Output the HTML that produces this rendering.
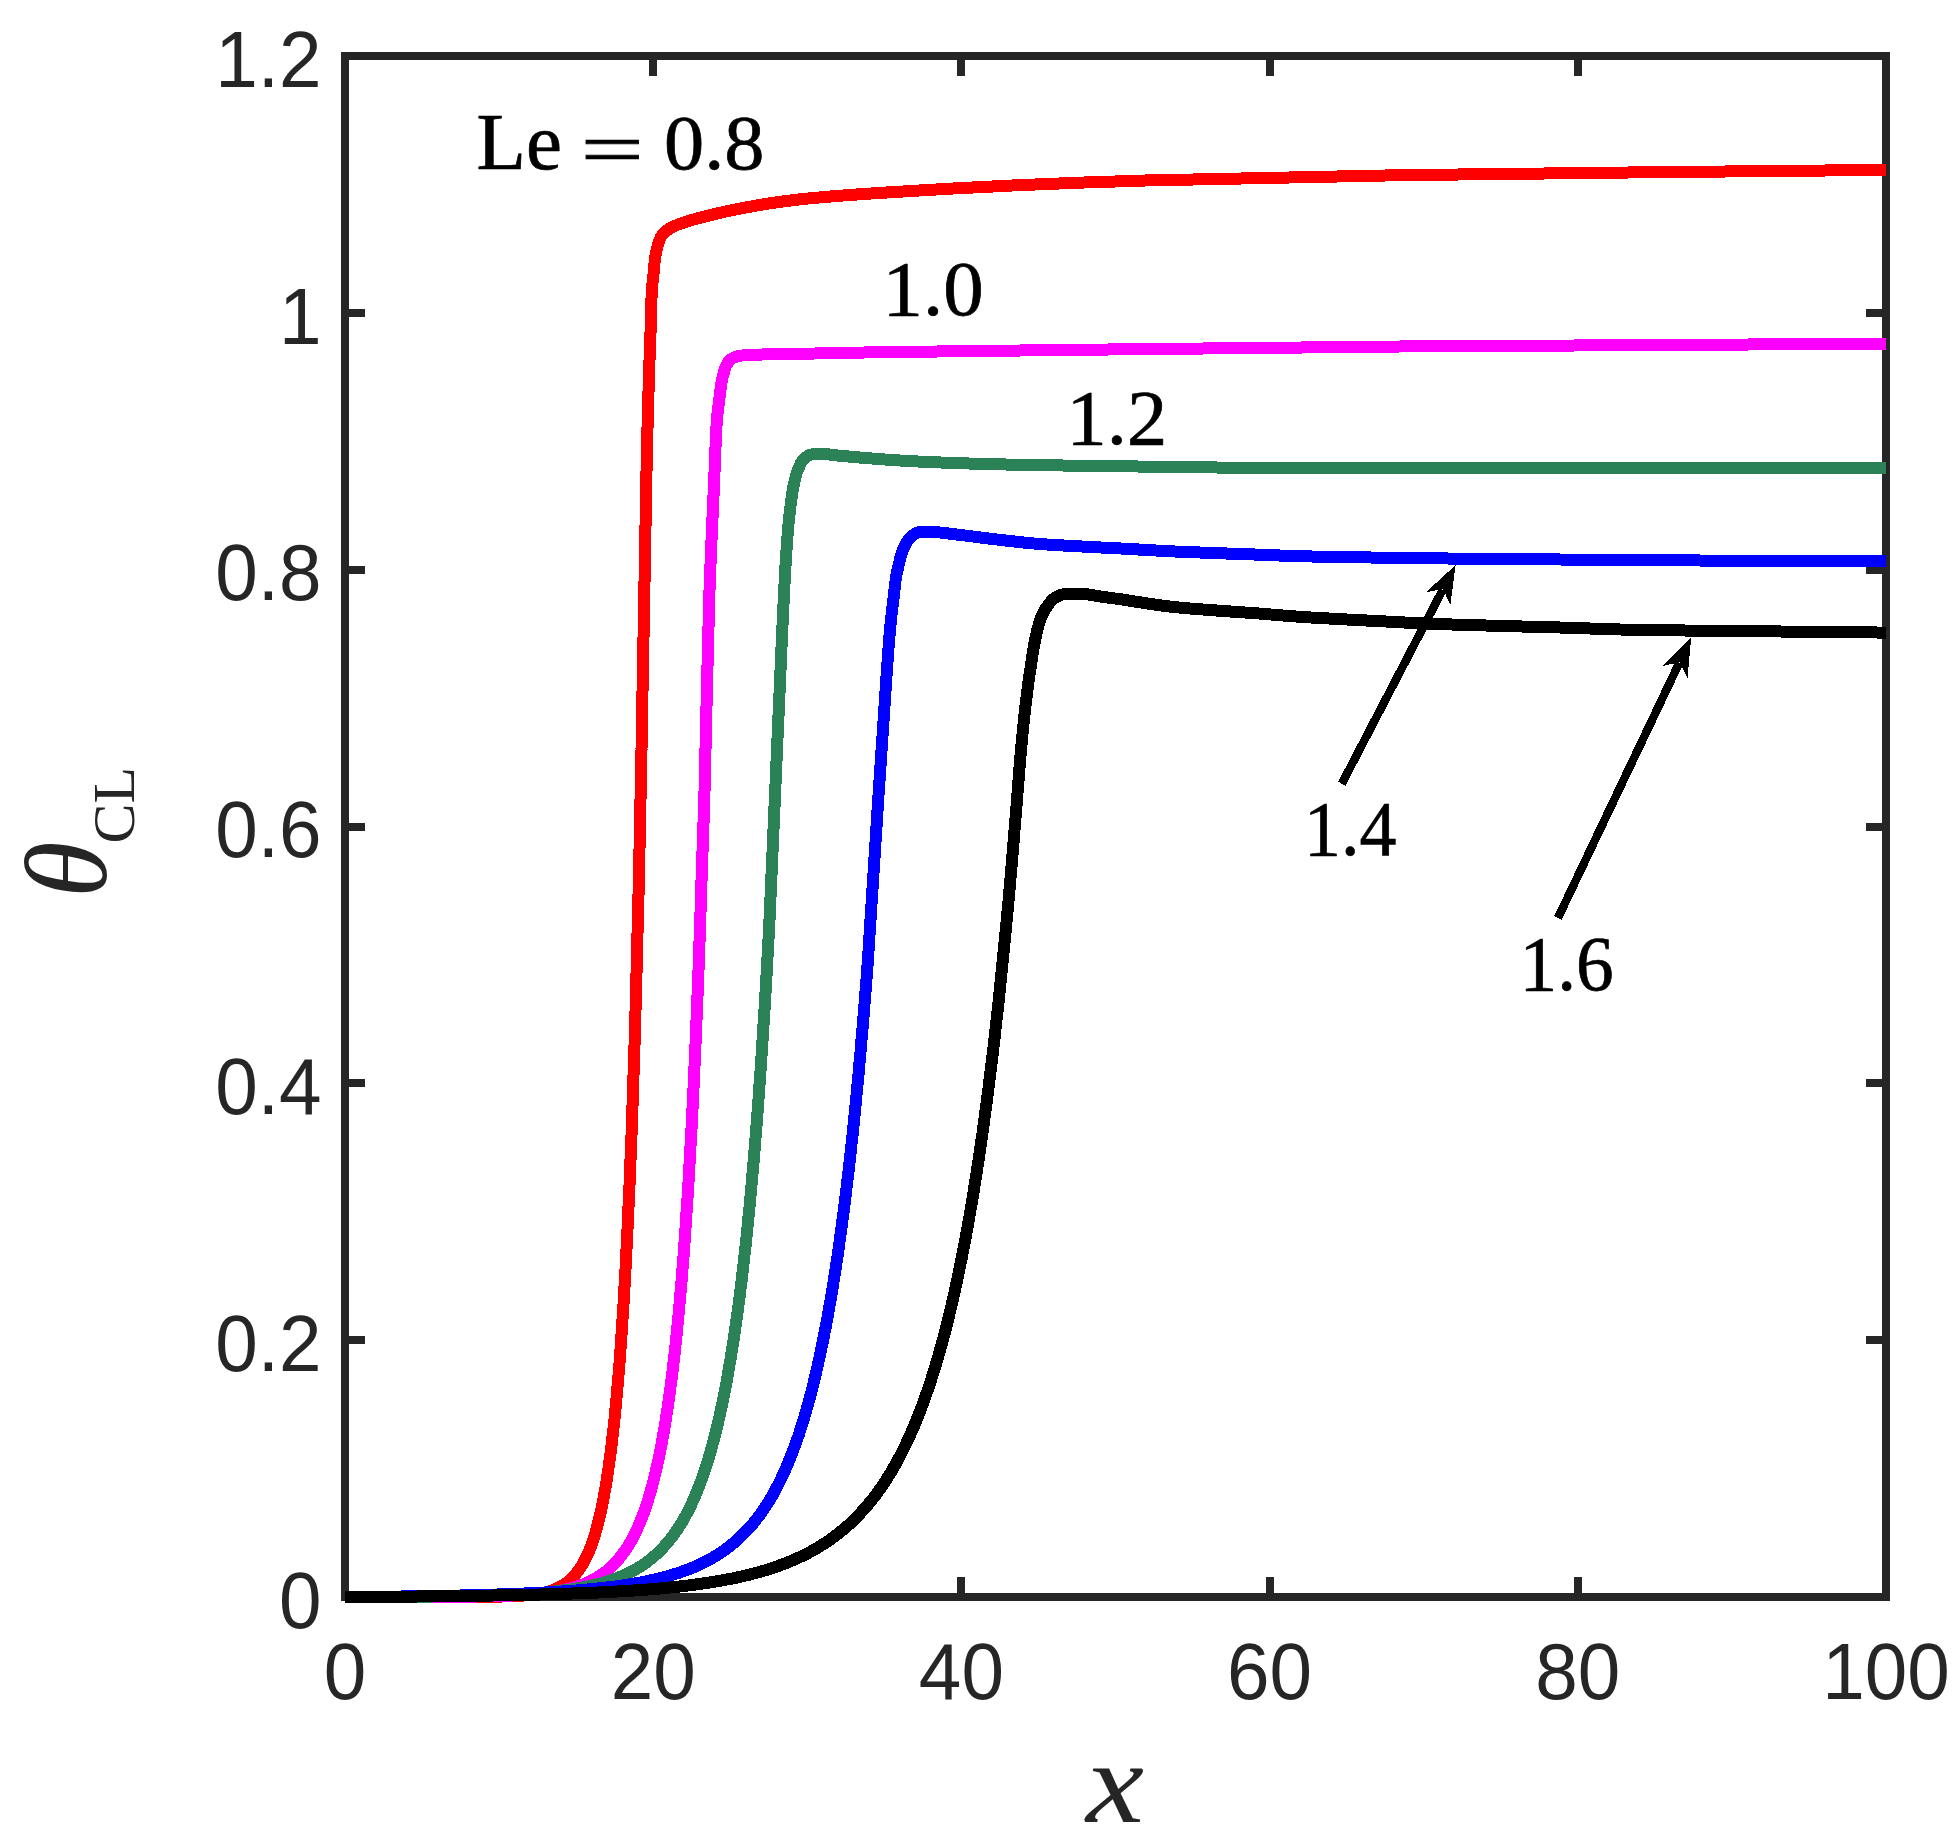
<!DOCTYPE html>
<html lang="en"><head><meta charset="utf-8"><title>theta_CL vs x for several Lewis numbers</title>
<style>
html,body{margin:0;padding:0;background:#fff}
svg{display:block}
.tk{font-family:"Liberation Sans",sans-serif;fill:#262626}
.rm{font-family:"Liberation Serif",serif;fill:#000;stroke:#000;stroke-width:0.7px}
.it{font-family:"Liberation Serif",serif;font-style:italic;fill:#262626}
.sb{font-family:"Liberation Serif",serif;fill:#262626}
</style></head><body>
<svg width="1959" height="1846" viewBox="0 0 1959 1846">
<rect width="1959" height="1846" fill="#fff"/>
<g stroke="#262626" stroke-width="8" fill="none" shape-rendering="crispEdges"><rect x="345.0" y="56.0" width="1541.0" height="1541.0"/><line x1="653.2" y1="1597.0" x2="653.2" y2="1577.0"/><line x1="653.2" y1="56.0" x2="653.2" y2="76.0"/><line x1="961.4" y1="1597.0" x2="961.4" y2="1577.0"/><line x1="961.4" y1="56.0" x2="961.4" y2="76.0"/><line x1="1269.6" y1="1597.0" x2="1269.6" y2="1577.0"/><line x1="1269.6" y1="56.0" x2="1269.6" y2="76.0"/><line x1="1577.8" y1="1597.0" x2="1577.8" y2="1577.0"/><line x1="1577.8" y1="56.0" x2="1577.8" y2="76.0"/><line x1="345.0" y1="1340.2" x2="365.0" y2="1340.2"/><line x1="1886.0" y1="1340.2" x2="1866.0" y2="1340.2"/><line x1="345.0" y1="1083.3" x2="365.0" y2="1083.3"/><line x1="1886.0" y1="1083.3" x2="1866.0" y2="1083.3"/><line x1="345.0" y1="826.5" x2="365.0" y2="826.5"/><line x1="1886.0" y1="826.5" x2="1866.0" y2="826.5"/><line x1="345.0" y1="569.7" x2="365.0" y2="569.7"/><line x1="1886.0" y1="569.7" x2="1866.0" y2="569.7"/><line x1="345.0" y1="312.8" x2="365.0" y2="312.8"/><line x1="1886.0" y1="312.8" x2="1866.0" y2="312.8"/></g>
<g fill="none" stroke-width="12" stroke-linejoin="round" shape-rendering="crispEdges"><path stroke="#ff0000" d="M345.0 1597.0C347.7 1597.0 350.3 1597.0 353.0 1597.0C355.7 1597.0 358.4 1597.0 361.0 1597.0C363.7 1597.0 366.4 1597.0 369.0 1597.0C371.7 1597.0 374.4 1597.0 377.1 1597.0C379.7 1597.0 382.4 1597.0 385.1 1597.0C387.7 1597.0 390.4 1597.0 393.1 1597.0C395.8 1597.0 398.4 1597.0 401.1 1597.0C403.8 1597.0 406.4 1597.0 409.1 1597.0C411.8 1597.0 414.4 1597.0 417.1 1597.0C419.8 1597.0 422.5 1597.0 425.1 1597.0C427.8 1597.0 430.5 1597.0 433.1 1597.0C435.8 1597.0 438.5 1597.0 441.2 1597.0C443.8 1597.0 446.5 1597.0 449.2 1597.0C451.8 1597.0 454.5 1597.0 457.2 1597.0C459.9 1596.9 462.5 1596.9 465.2 1596.9C467.9 1596.9 470.5 1596.9 473.2 1596.9C475.9 1596.9 478.6 1596.9 481.2 1596.8C483.9 1596.8 486.6 1596.8 489.2 1596.7C491.9 1596.7 494.6 1596.7 497.3 1596.6C499.9 1596.6 502.6 1596.5 505.3 1596.4C507.9 1596.3 510.6 1596.2 513.3 1596.1C515.9 1596.0 518.6 1595.8 521.3 1595.7C524.0 1595.5 526.6 1595.2 529.3 1595.0C532.0 1594.7 534.7 1594.3 537.3 1593.9C540.0 1593.5 542.6 1593.0 545.2 1592.4C547.8 1591.7 550.4 1591.0 552.9 1590.1C555.4 1589.2 557.9 1588.0 560.3 1586.8C562.6 1585.6 564.9 1584.1 567.1 1582.5C569.2 1580.9 571.2 1579.0 573.1 1577.1C574.9 1575.2 576.7 1573.0 578.3 1570.8C579.9 1568.7 581.4 1566.3 582.8 1564.0C584.2 1561.6 585.4 1559.1 586.6 1556.6C587.8 1554.1 588.9 1551.6 589.9 1549.1C590.9 1546.6 591.8 1544.1 592.6 1541.5C593.5 1539.0 594.3 1536.4 595.1 1533.8C595.9 1531.1 596.7 1528.3 597.4 1525.6C598.1 1522.9 598.8 1520.3 599.4 1517.6C600.1 1514.9 600.7 1512.2 601.3 1509.4C601.9 1506.7 602.4 1503.9 603.0 1501.2C603.5 1498.4 604.0 1495.7 604.5 1493.0C605.0 1490.3 605.4 1487.7 605.9 1485.0C606.4 1482.1 606.8 1479.2 607.3 1476.3C607.7 1473.5 608.1 1470.9 608.5 1468.1C608.9 1465.2 609.4 1462.1 609.7 1459.2C610.1 1456.4 610.5 1453.8 610.8 1451.0C611.2 1448.1 611.6 1445.0 611.9 1442.2C612.2 1439.5 612.5 1436.9 612.8 1434.2C613.1 1431.5 613.4 1428.7 613.8 1425.9C614.1 1423.0 614.4 1420.0 614.7 1417.0C615.0 1414.0 615.3 1410.7 615.6 1407.7C615.9 1404.9 616.1 1402.3 616.4 1399.6C616.6 1396.8 616.9 1393.9 617.1 1391.1C617.4 1388.1 617.7 1385.2 617.9 1382.2C618.2 1379.1 618.4 1376.0 618.7 1372.9C618.9 1369.6 619.2 1366.2 619.5 1363.1C619.7 1360.3 619.9 1357.7 620.1 1355.0C620.3 1352.2 620.5 1349.4 620.7 1346.6C620.9 1343.7 621.1 1340.8 621.3 1337.9C621.5 1334.9 621.7 1331.9 621.9 1328.8C622.1 1325.7 622.3 1322.6 622.5 1319.4C622.7 1316.2 622.9 1313.0 623.2 1309.7C623.4 1306.3 623.6 1303.0 623.8 1299.6C624.0 1296.1 624.2 1292.3 624.4 1289.1C624.5 1286.2 624.7 1283.7 624.8 1280.9C625.0 1278.2 625.2 1275.4 625.3 1272.6C625.5 1269.7 625.6 1266.9 625.8 1264.0C625.9 1261.0 626.1 1258.1 626.2 1255.1C626.4 1252.1 626.5 1249.1 626.7 1246.0C626.8 1242.9 627.0 1239.8 627.2 1236.6C627.3 1233.5 627.5 1230.2 627.6 1227.0C627.8 1223.7 627.9 1220.4 628.1 1217.1C628.2 1213.7 628.4 1210.3 628.5 1206.9C628.7 1203.4 628.9 1199.9 629.0 1196.4C629.2 1192.8 629.3 1189.2 629.5 1185.5C629.6 1181.8 629.8 1178.1 629.9 1174.4C630.1 1170.6 630.2 1166.8 630.4 1162.9C630.5 1159.0 630.7 1154.7 630.9 1151.1C631.0 1148.2 631.1 1145.7 631.2 1143.0C631.3 1140.3 631.4 1137.5 631.5 1134.8C631.6 1132.0 631.7 1129.2 631.8 1126.4C631.9 1123.5 632.0 1120.7 632.1 1117.8C632.2 1114.9 632.3 1112.0 632.4 1109.1C632.5 1106.1 632.6 1103.1 632.7 1100.2C632.8 1097.1 632.9 1094.1 633.0 1091.1C633.1 1088.0 633.2 1084.9 633.3 1081.8C633.4 1078.6 633.5 1075.5 633.6 1072.3C633.7 1069.1 633.8 1065.9 633.9 1062.6C634.0 1059.4 634.1 1056.1 634.2 1052.8C634.3 1049.4 634.5 1046.1 634.6 1042.7C634.7 1039.3 634.8 1035.9 634.9 1032.4C635.0 1028.9 635.1 1025.4 635.2 1021.9C635.3 1018.4 635.4 1014.8 635.5 1011.2C635.6 1007.6 635.7 1004.0 635.8 1000.3C635.9 996.6 636.0 992.9 636.1 989.1C636.2 985.4 636.3 981.6 636.4 977.7C636.5 973.9 636.6 970.0 636.7 966.1C636.8 962.2 636.9 958.2 637.0 954.2C637.1 950.2 637.2 946.2 637.3 942.1C637.4 938.0 637.5 933.9 637.6 929.7C637.7 925.5 637.8 921.3 637.9 917.1C638.0 912.8 638.2 908.5 638.3 904.1C638.4 899.8 638.5 895.4 638.6 890.9C638.7 886.5 638.8 882.0 638.9 877.5C639.0 872.9 639.1 868.3 639.2 863.7C639.3 859.0 639.4 854.3 639.5 849.6C639.6 844.9 639.7 840.1 639.8 835.2C639.9 830.4 640.0 825.5 640.1 820.6C640.2 815.6 640.3 810.6 640.4 805.5C640.5 800.5 640.6 795.3 640.7 790.2C640.8 785.0 640.9 779.8 641.0 774.5C641.1 769.2 641.3 762.9 641.3 758.5C641.4 755.3 641.4 753.1 641.5 750.3C641.5 747.6 641.6 746.0 641.6 742.1C641.9 725.8 643.3 648.0 644.2 600.0C645.1 550.7 646.0 490.6 646.9 450.0C647.5 421.8 648.2 399.0 648.9 377.5C649.5 360.1 650.1 345.1 650.6 330.0C651.1 316.1 651.3 300.3 651.9 290.0C652.3 283.3 653.1 278.5 653.6 273.1C654.1 268.1 654.4 262.8 655.0 258.5C655.5 254.9 656.2 251.8 656.9 248.8C657.5 246.2 658.2 243.6 659.0 241.4C659.7 239.5 660.5 237.5 661.4 236.1C662.1 235.0 662.8 234.1 663.6 233.2C664.5 232.2 665.5 231.4 666.7 230.5C668.3 229.3 670.4 228.1 672.8 226.9C676.2 225.2 681.4 223.3 685.9 221.8C690.5 220.3 695.4 219.0 700.2 217.7C705.0 216.4 709.7 215.3 714.6 214.1C719.6 212.9 723.3 212.0 730.0 210.6C743.6 207.8 771.9 202.5 795.0 199.9C821.3 196.9 844.7 195.2 880.0 192.9C942.3 188.8 1057.9 183.0 1145.5 180.5C1231.2 178.0 1315.9 176.5 1400.0 175.2C1482.6 174.0 1564.1 173.2 1645.5 172.3C1726.1 171.4 1806.2 170.6 1886.0 169.9"/>
<path stroke="#ff00ff" d="M345.0 1597.0C347.7 1597.0 350.3 1597.0 353.0 1597.0C355.7 1597.0 358.4 1597.0 361.0 1597.0C363.7 1597.0 366.4 1597.0 369.0 1597.0C371.7 1597.0 374.4 1597.0 377.1 1597.0C379.7 1597.0 382.4 1597.0 385.1 1597.0C387.7 1597.0 390.4 1597.0 393.1 1597.0C395.8 1597.0 398.4 1597.0 401.1 1597.0C403.8 1597.0 406.4 1596.9 409.1 1596.9C411.8 1596.9 414.4 1596.9 417.1 1596.9C419.8 1596.9 422.5 1596.9 425.1 1596.9C427.8 1596.9 430.5 1596.9 433.1 1596.9C435.8 1596.9 438.5 1596.8 441.2 1596.8C443.8 1596.8 446.5 1596.8 449.2 1596.8C451.8 1596.8 454.5 1596.7 457.2 1596.7C459.9 1596.7 462.5 1596.7 465.2 1596.6C467.9 1596.6 470.5 1596.6 473.2 1596.6C475.9 1596.5 478.6 1596.5 481.2 1596.4C483.9 1596.4 486.6 1596.3 489.2 1596.3C491.9 1596.2 494.6 1596.1 497.3 1596.1C499.9 1596.0 502.6 1595.9 505.3 1595.8C507.9 1595.7 510.6 1595.6 513.3 1595.5C515.9 1595.4 518.6 1595.2 521.3 1595.1C524.0 1594.9 526.6 1594.7 529.3 1594.5C532.0 1594.3 534.6 1594.1 537.3 1593.9C540.0 1593.6 542.7 1593.3 545.3 1593.0C548.0 1592.7 550.7 1592.3 553.3 1591.9C556.0 1591.5 558.7 1591.0 561.4 1590.5C564.0 1589.9 566.6 1589.4 569.2 1588.7C571.8 1588.1 574.4 1587.3 576.9 1586.5C579.5 1585.7 582.0 1584.8 584.5 1583.8C587.0 1582.8 589.5 1581.7 591.9 1580.4C594.3 1579.2 596.7 1577.9 599.0 1576.4C601.2 1575.0 603.5 1573.4 605.6 1571.8C607.7 1570.1 609.8 1568.3 611.7 1566.5C613.7 1564.6 615.6 1562.6 617.4 1560.5C619.2 1558.5 620.9 1556.4 622.5 1554.2C624.2 1552.1 625.7 1549.8 627.2 1547.5C628.6 1545.2 630.0 1542.9 631.3 1540.6C632.7 1538.1 634.0 1535.6 635.2 1533.2C636.4 1530.7 637.5 1528.3 638.6 1525.8C639.6 1523.3 640.7 1520.9 641.6 1518.3C642.7 1515.8 643.6 1513.1 644.6 1510.5C645.5 1507.9 646.3 1505.3 647.2 1502.7C648.0 1500.0 648.9 1497.4 649.7 1494.7C650.5 1492.0 651.2 1489.2 652.0 1486.5C652.7 1483.7 653.4 1481.0 654.1 1478.2C654.8 1475.4 655.5 1472.6 656.1 1469.9C656.8 1467.1 657.4 1464.4 658.0 1461.6C658.6 1458.9 659.1 1456.3 659.7 1453.5C660.2 1450.7 660.8 1447.7 661.4 1444.9C661.9 1442.1 662.4 1439.3 662.9 1436.5C663.4 1433.9 663.8 1431.3 664.3 1428.6C664.8 1425.8 665.2 1423.0 665.7 1420.2C666.2 1417.3 666.6 1414.2 667.1 1411.3C667.5 1408.5 667.9 1405.8 668.3 1403.0C668.7 1400.1 669.1 1397.1 669.5 1394.2C669.9 1391.5 670.3 1388.9 670.6 1386.2C671.0 1383.4 671.3 1380.7 671.7 1377.8C672.1 1374.9 672.4 1372.0 672.8 1369.1C673.1 1366.0 673.5 1362.9 673.8 1359.9C674.2 1357.1 674.5 1354.5 674.8 1351.7C675.1 1348.9 675.4 1346.1 675.7 1343.2C676.0 1340.3 676.3 1337.3 676.6 1334.3C676.9 1331.3 677.3 1328.1 677.5 1325.1C677.8 1322.4 678.1 1319.8 678.3 1317.1C678.6 1314.4 678.8 1311.7 679.1 1308.9C679.3 1306.1 679.6 1303.3 679.9 1300.4C680.1 1297.5 680.4 1294.5 680.6 1291.6C680.9 1288.6 681.1 1285.5 681.4 1282.5C681.7 1279.4 681.9 1276.2 682.2 1273.0C682.4 1269.8 682.7 1266.4 682.9 1263.3C683.2 1260.5 683.4 1257.9 683.6 1255.2C683.8 1252.5 684.0 1249.7 684.2 1247.0C684.4 1244.1 684.6 1241.3 684.8 1238.4C685.0 1235.5 685.2 1232.6 685.4 1229.7C685.6 1226.7 685.8 1223.7 686.0 1220.7C686.2 1217.6 686.4 1214.5 686.6 1211.4C686.8 1208.3 687.1 1205.1 687.3 1201.9C687.5 1198.7 687.7 1195.4 687.9 1192.1C688.1 1188.8 688.3 1185.4 688.5 1182.0C688.7 1178.6 688.9 1175.1 689.1 1171.7C689.3 1168.1 689.5 1164.3 689.7 1161.0C689.9 1158.1 690.0 1155.5 690.2 1152.8C690.3 1150.0 690.5 1147.2 690.6 1144.4C690.8 1141.5 691.0 1138.7 691.1 1135.8C691.3 1132.9 691.4 1130.0 691.6 1127.0C691.7 1124.1 691.9 1121.1 692.0 1118.1C692.2 1115.0 692.3 1112.0 692.5 1108.9C692.7 1105.8 692.8 1102.7 693.0 1099.5C693.1 1096.4 693.3 1093.2 693.4 1089.9C693.6 1086.7 693.7 1083.4 693.9 1080.2C694.0 1076.8 694.2 1073.5 694.3 1070.1C694.5 1066.7 694.7 1063.3 694.8 1059.9C695.0 1056.4 695.1 1052.9 695.3 1049.4C695.4 1045.9 695.6 1042.3 695.7 1038.7C695.9 1035.1 696.0 1031.4 696.2 1027.7C696.3 1024.0 696.5 1020.3 696.7 1016.5C696.8 1012.7 697.0 1008.9 697.1 1005.1C697.3 1001.2 697.4 997.3 697.6 993.3C697.7 989.3 697.9 984.9 698.0 981.3C698.2 978.3 698.2 975.9 698.4 973.2C698.5 970.4 698.6 967.6 698.7 964.9C698.8 962.1 698.9 959.3 699.0 956.5C699.1 953.6 699.2 950.8 699.3 947.9C699.4 945.0 699.5 942.1 699.6 939.2C699.7 936.3 699.8 933.4 699.9 930.4C700.0 927.5 700.1 924.5 700.2 921.5C700.3 918.5 700.4 915.4 700.5 912.4C700.6 909.3 700.7 906.2 700.8 903.2C700.9 900.0 701.0 896.9 701.1 893.8C701.2 890.6 701.3 887.4 701.4 884.2C701.5 881.0 701.6 877.8 701.7 874.6C701.8 871.3 701.9 868.0 702.0 864.7C702.2 861.4 702.2 859.2 702.4 854.8C702.7 844.4 703.6 823.2 704.3 800.0C705.7 755.7 707.3 657.9 709.2 600.0C710.6 555.2 712.8 512.8 714.2 480.0C715.2 456.8 715.9 433.4 716.9 420.0C717.5 412.9 718.2 408.5 718.8 403.1C719.4 398.1 720.0 392.8 720.6 388.5C721.1 384.9 721.6 381.8 722.2 378.8C722.8 376.2 723.5 373.6 724.2 371.4C724.7 369.6 725.1 368.1 725.8 366.5C726.5 364.9 727.5 363.1 728.5 361.8C729.5 360.6 730.7 359.4 732.0 358.6C733.3 357.7 735.0 356.9 736.6 356.5C738.3 356.0 740.1 355.7 742.0 355.5C744.1 355.2 745.8 355.1 748.8 354.9C756.3 354.5 773.8 354.3 790.0 354.0C813.9 353.5 842.9 352.8 880.0 352.2C943.7 351.2 1057.9 350.1 1145.5 349.1C1231.2 348.2 1315.9 347.1 1400.0 346.5C1482.6 345.9 1564.1 345.6 1645.5 345.1C1726.1 344.6 1806.2 344.2 1886.0 343.7"/>
<path stroke="#2b8257" d="M345.0 1597.0C347.7 1597.0 350.3 1597.0 353.0 1597.0C355.7 1597.0 358.4 1597.0 361.0 1597.0C363.7 1596.9 366.4 1596.9 369.0 1596.9C371.7 1596.9 374.4 1596.9 377.1 1596.9C379.7 1596.9 382.4 1596.9 385.1 1596.9C387.7 1596.8 390.4 1596.8 393.1 1596.8C395.8 1596.8 398.4 1596.8 401.1 1596.8C403.8 1596.8 406.4 1596.7 409.1 1596.7C411.8 1596.7 414.4 1596.7 417.1 1596.7C419.8 1596.6 422.5 1596.6 425.1 1596.6C427.8 1596.6 430.5 1596.5 433.1 1596.5C435.8 1596.5 438.5 1596.4 441.2 1596.4C443.8 1596.4 446.5 1596.3 449.2 1596.3C451.8 1596.3 454.5 1596.2 457.2 1596.2C459.9 1596.1 462.5 1596.1 465.2 1596.0C467.9 1596.0 470.5 1595.9 473.2 1595.9C475.9 1595.8 478.6 1595.7 481.2 1595.7C483.9 1595.6 486.6 1595.5 489.2 1595.4C491.9 1595.4 494.6 1595.3 497.3 1595.2C499.9 1595.1 502.6 1595.0 505.3 1594.9C507.9 1594.8 510.6 1594.6 513.3 1594.5C515.9 1594.4 518.6 1594.2 521.3 1594.1C524.0 1593.9 526.6 1593.8 529.3 1593.6C532.0 1593.4 534.6 1593.2 537.3 1593.0C540.0 1592.8 542.7 1592.6 545.3 1592.4C548.0 1592.1 550.7 1591.9 553.3 1591.6C556.0 1591.3 558.7 1591.0 561.4 1590.7C564.0 1590.4 566.7 1590.0 569.4 1589.6C572.0 1589.3 574.7 1588.8 577.4 1588.4C580.1 1587.9 582.7 1587.5 585.4 1586.9C588.0 1586.4 590.6 1585.8 593.3 1585.2C595.9 1584.6 598.5 1584.0 601.1 1583.3C603.7 1582.5 606.3 1581.8 608.8 1581.0C611.4 1580.1 614.0 1579.2 616.5 1578.3C619.1 1577.3 621.6 1576.3 624.1 1575.2C626.5 1574.1 628.9 1572.9 631.3 1571.7C633.7 1570.4 636.1 1569.1 638.4 1567.7C640.7 1566.3 643.0 1564.8 645.2 1563.3C647.4 1561.7 649.6 1560.0 651.7 1558.3C653.8 1556.6 655.8 1554.8 657.8 1552.9C659.8 1551.0 661.7 1549.1 663.5 1547.1C665.4 1545.1 667.2 1543.1 668.9 1540.9C670.6 1538.9 672.3 1536.7 673.8 1534.5C675.4 1532.3 677.0 1530.1 678.5 1527.8C680.0 1525.5 681.4 1523.2 682.8 1520.8C684.2 1518.4 685.5 1516.0 686.8 1513.6C688.1 1511.1 689.3 1508.7 690.5 1506.2C691.7 1503.8 692.8 1501.4 693.9 1498.9C695.0 1496.4 696.1 1493.8 697.1 1491.2C698.1 1488.7 699.1 1486.3 700.0 1483.8C701.0 1481.2 701.9 1478.7 702.8 1476.1C703.7 1473.6 704.6 1471.0 705.4 1468.4C706.3 1465.8 707.1 1463.2 707.9 1460.6C708.7 1458.1 709.5 1455.5 710.2 1452.9C711.0 1450.2 711.8 1447.4 712.5 1444.6C713.3 1441.9 714.0 1439.2 714.7 1436.4C715.4 1433.7 716.0 1431.1 716.7 1428.4C717.3 1425.8 717.9 1423.2 718.5 1420.6C719.2 1417.9 719.8 1415.1 720.4 1412.4C721.0 1409.7 721.5 1407.1 722.1 1404.5C722.7 1401.7 723.2 1398.9 723.8 1396.2C724.3 1393.5 724.8 1390.9 725.3 1388.3C725.8 1385.6 726.4 1382.8 726.9 1380.1C727.4 1377.2 727.9 1374.3 728.4 1371.5C728.9 1368.8 729.3 1366.1 729.8 1363.4C730.3 1360.7 730.7 1357.9 731.2 1355.1C731.6 1352.2 732.1 1349.2 732.6 1346.4C733.0 1343.6 733.4 1341.0 733.8 1338.3C734.2 1335.6 734.6 1332.8 735.0 1330.0C735.4 1327.2 735.9 1324.3 736.3 1321.4C736.7 1318.5 737.1 1315.4 737.5 1312.5C737.9 1309.8 738.2 1307.2 738.6 1304.4C738.9 1301.7 739.3 1298.9 739.7 1296.1C740.0 1293.3 740.4 1290.4 740.7 1287.5C741.1 1284.6 741.5 1281.7 741.8 1278.7C742.2 1275.7 742.5 1272.5 742.9 1269.6C743.2 1266.8 743.5 1264.2 743.8 1261.5C744.1 1258.8 744.4 1256.0 744.7 1253.2C745.0 1250.4 745.4 1247.6 745.7 1244.7C746.0 1241.8 746.3 1238.9 746.6 1236.0C746.9 1233.0 747.2 1230.0 747.5 1227.0C747.8 1223.9 748.1 1220.9 748.4 1217.8C748.7 1214.6 749.1 1211.3 749.4 1208.3C749.6 1205.5 749.9 1202.9 750.1 1200.2C750.4 1197.4 750.6 1194.7 750.9 1191.9C751.2 1189.1 751.4 1186.2 751.7 1183.4C751.9 1180.5 752.2 1177.6 752.4 1174.7C752.7 1171.8 753.0 1168.8 753.2 1165.9C753.5 1162.8 753.7 1159.8 754.0 1156.8C754.2 1153.7 754.5 1150.6 754.8 1147.5C755.0 1144.3 755.3 1141.1 755.5 1138.0C755.8 1134.7 756.0 1131.5 756.3 1128.2C756.6 1124.9 756.8 1121.4 757.1 1118.3C757.3 1115.4 757.5 1112.9 757.7 1110.1C757.9 1107.4 758.1 1104.6 758.3 1101.8C758.5 1099.0 758.7 1096.2 758.9 1093.4C759.1 1090.5 759.3 1087.7 759.5 1084.8C759.7 1081.9 759.9 1079.0 760.1 1076.0C760.4 1073.1 760.6 1070.1 760.8 1067.1C761.0 1064.1 761.2 1061.1 761.4 1058.0C761.6 1054.9 761.8 1051.8 762.0 1048.7C762.2 1045.6 762.4 1042.5 762.6 1039.3C762.8 1036.1 763.0 1032.9 763.2 1029.7C763.4 1026.4 763.6 1023.1 763.8 1019.9C764.1 1016.5 764.3 1013.2 764.5 1009.9C764.7 1006.5 764.9 1003.1 765.1 999.7C765.3 996.2 765.5 992.8 765.7 989.3C765.9 985.8 766.1 982.0 766.3 978.7C766.5 975.9 766.6 973.4 766.8 970.7C766.9 968.0 767.1 965.2 767.2 962.5C767.4 959.7 767.5 957.0 767.7 954.2C767.9 951.4 768.0 948.6 768.2 945.8C768.3 943.0 768.5 940.1 768.6 937.3C768.8 934.4 768.9 931.5 769.1 928.6C769.2 925.7 769.3 924.0 769.5 919.8C770.3 904.5 773.1 838.1 774.8 800.0C776.3 765.2 777.9 730.6 779.2 700.0C780.3 674.0 781.3 651.0 782.4 627.5C783.5 605.2 784.5 581.8 785.7 562.5C786.7 546.9 787.8 530.8 788.9 520.0C789.6 513.2 790.2 508.5 790.9 503.1C791.6 498.1 792.2 492.8 793.0 488.5C793.6 484.9 794.4 481.9 795.2 478.8C795.9 475.9 796.6 472.9 797.5 470.5C798.2 468.5 799.2 466.8 799.9 465.3C800.5 464.0 800.9 462.9 801.6 461.9C802.3 460.9 803.1 459.9 804.0 459.0C805.0 457.9 806.4 456.6 807.7 455.9C808.9 455.3 809.9 454.7 811.3 454.5C813.0 454.2 815.2 453.9 817.2 453.9C819.3 453.9 821.3 453.9 823.8 454.0C827.3 454.1 832.3 455.0 836.4 455.4C840.2 455.8 843.5 456.0 847.6 456.4C852.7 456.9 857.5 457.4 865.0 458.0C880.0 459.2 909.4 461.3 935.0 462.3C966.3 463.6 997.8 464.5 1040.0 465.2C1107.2 466.4 1217.9 467.9 1305.5 468.0C1391.2 468.1 1470.0 468.2 1560.0 468.2C1661.8 468.2 1770.6 468.3 1886.0 468.3"/>
<path stroke="#0000ff" d="M345.0 1597.0C347.7 1597.0 350.3 1597.0 353.0 1596.9C355.7 1596.9 358.4 1596.9 361.0 1596.9C363.7 1596.8 366.4 1596.8 369.0 1596.8C371.7 1596.8 374.4 1596.7 377.1 1596.7C379.7 1596.7 382.4 1596.7 385.1 1596.6C387.7 1596.6 390.4 1596.6 393.1 1596.6C395.8 1596.5 398.4 1596.5 401.1 1596.5C403.8 1596.4 406.4 1596.4 409.1 1596.4C411.8 1596.3 414.4 1596.3 417.1 1596.2C419.8 1596.2 422.5 1596.2 425.1 1596.1C427.8 1596.1 430.5 1596.0 433.1 1596.0C435.8 1596.0 438.5 1595.9 441.2 1595.9C443.8 1595.8 446.5 1595.8 449.2 1595.7C451.8 1595.7 454.5 1595.6 457.2 1595.6C459.9 1595.5 462.5 1595.4 465.2 1595.4C467.9 1595.3 470.5 1595.3 473.2 1595.2C475.9 1595.1 478.6 1595.1 481.2 1595.0C483.9 1594.9 486.6 1594.8 489.2 1594.8C491.9 1594.7 494.6 1594.6 497.3 1594.5C499.9 1594.4 502.6 1594.3 505.3 1594.2C507.9 1594.1 510.6 1594.0 513.3 1593.9C515.9 1593.8 518.6 1593.7 521.3 1593.6C524.0 1593.5 526.6 1593.4 529.3 1593.3C532.0 1593.1 534.6 1593.0 537.3 1592.9C540.0 1592.8 542.7 1592.6 545.3 1592.5C548.0 1592.3 550.7 1592.2 553.3 1592.0C556.0 1591.9 558.7 1591.7 561.4 1591.5C564.0 1591.4 566.7 1591.2 569.4 1591.0C572.0 1590.8 574.7 1590.6 577.4 1590.4C580.1 1590.2 582.7 1589.9 585.4 1589.7C588.1 1589.5 590.7 1589.2 593.4 1589.0C596.1 1588.7 598.8 1588.4 601.4 1588.1C604.1 1587.8 606.8 1587.5 609.4 1587.2C612.1 1586.9 614.8 1586.5 617.4 1586.2C620.1 1585.8 622.8 1585.4 625.5 1585.0C628.1 1584.6 630.8 1584.2 633.5 1583.7C636.1 1583.3 638.8 1582.8 641.5 1582.3C644.1 1581.8 646.7 1581.3 649.3 1580.7C652.0 1580.1 654.6 1579.5 657.2 1578.9C659.8 1578.3 662.5 1577.6 665.1 1576.9C667.7 1576.2 670.2 1575.5 672.8 1574.7C675.3 1573.9 677.9 1573.1 680.5 1572.2C683.0 1571.4 685.5 1570.4 688.0 1569.5C690.6 1568.5 693.1 1567.5 695.6 1566.4C698.1 1565.3 700.5 1564.1 703.0 1562.9C705.4 1561.8 707.7 1560.5 710.1 1559.2C712.4 1557.9 714.7 1556.6 717.0 1555.1C719.3 1553.7 721.6 1552.2 723.8 1550.6C726.0 1549.1 728.1 1547.5 730.2 1545.8C732.4 1544.1 734.4 1542.4 736.4 1540.7C738.4 1538.9 740.4 1537.1 742.3 1535.2C744.2 1533.3 746.1 1531.3 748.0 1529.3C749.8 1527.3 751.6 1525.2 753.4 1523.1C755.1 1521.0 756.8 1518.8 758.5 1516.6C760.1 1514.5 761.7 1512.2 763.2 1510.0C764.8 1507.7 766.3 1505.5 767.7 1503.2C769.1 1500.9 770.5 1498.6 771.9 1496.3C773.2 1493.9 774.6 1491.5 775.9 1489.1C777.1 1486.7 778.4 1484.3 779.6 1481.9C780.8 1479.5 782.0 1477.0 783.1 1474.5C784.3 1472.0 785.4 1469.5 786.5 1466.9C787.6 1464.4 788.7 1461.8 789.7 1459.2C790.7 1456.7 791.7 1454.3 792.7 1451.7C793.6 1449.1 794.6 1446.5 795.6 1443.8C796.5 1441.2 797.5 1438.5 798.4 1435.9C799.3 1433.2 800.1 1430.6 801.0 1427.9C801.8 1425.3 802.6 1422.7 803.4 1420.1C804.2 1417.5 805.0 1414.9 805.8 1412.3C806.5 1409.6 807.3 1406.9 808.1 1404.1C808.8 1401.5 809.5 1398.9 810.2 1396.2C811.0 1393.4 811.7 1390.6 812.4 1387.8C813.1 1385.1 813.7 1382.4 814.4 1379.7C815.0 1377.1 815.6 1374.6 816.2 1371.9C816.9 1369.3 817.5 1366.6 818.1 1363.8C818.7 1361.1 819.3 1358.2 819.9 1355.4C820.5 1352.7 821.1 1350.1 821.6 1347.4C822.2 1344.6 822.8 1341.9 823.3 1339.1C823.9 1336.2 824.5 1333.3 825.0 1330.4C825.6 1327.7 826.1 1325.0 826.6 1322.3C827.1 1319.5 827.6 1316.7 828.1 1313.9C828.6 1311.0 829.1 1308.1 829.6 1305.2C830.1 1302.5 830.6 1299.9 831.0 1297.2C831.5 1294.4 832.0 1291.6 832.4 1288.8C832.9 1286.0 833.3 1283.1 833.8 1280.3C834.3 1277.3 834.7 1274.3 835.2 1271.4C835.6 1268.7 836.0 1266.1 836.4 1263.3C836.8 1260.6 837.2 1257.8 837.7 1255.0C838.1 1252.2 838.5 1249.4 838.9 1246.5C839.3 1243.6 839.7 1240.7 840.1 1237.7C840.5 1234.7 841.0 1231.6 841.4 1228.7C841.7 1225.9 842.1 1223.3 842.4 1220.6C842.8 1217.9 843.2 1215.1 843.5 1212.3C843.9 1209.5 844.2 1206.7 844.6 1203.9C845.0 1201.0 845.3 1198.1 845.7 1195.2C846.0 1192.2 846.4 1189.3 846.7 1186.3C847.1 1183.2 847.5 1180.1 847.8 1177.2C848.1 1174.4 848.4 1171.8 848.8 1169.2C849.1 1166.5 849.4 1163.7 849.7 1161.0C850.0 1158.2 850.3 1155.5 850.6 1152.7C850.9 1149.9 851.2 1147.0 851.5 1144.2C851.8 1141.3 852.1 1138.4 852.5 1135.5C852.8 1132.6 853.1 1129.6 853.4 1126.6C853.7 1123.6 854.0 1120.6 854.3 1117.6C854.6 1114.5 854.9 1111.5 855.2 1108.4C855.5 1105.2 855.9 1102.0 856.1 1098.9C856.4 1096.2 856.7 1093.6 856.9 1090.9C857.2 1088.2 857.4 1085.5 857.7 1082.8C857.9 1080.0 858.2 1077.3 858.5 1074.5C858.7 1071.7 859.0 1068.9 859.2 1066.1C859.5 1063.2 859.7 1060.4 860.0 1057.5C860.3 1054.6 860.5 1051.7 860.8 1048.8C861.0 1045.8 861.3 1042.8 861.5 1039.9C861.8 1036.9 862.1 1033.9 862.3 1030.8C862.6 1027.8 862.8 1024.7 863.1 1021.6C863.3 1018.5 863.6 1015.4 863.9 1012.3C864.1 1009.1 864.4 1005.9 864.6 1002.7C864.9 999.5 865.1 996.3 865.4 993.0C865.7 989.8 865.9 986.3 866.2 983.2C866.4 980.4 866.6 977.8 866.8 975.2C867.0 972.5 867.2 969.8 867.4 967.0C867.6 964.3 867.7 962.7 868.0 958.8C869.3 941.4 875.1 846.6 878.2 800.0C880.6 763.0 882.8 730.6 884.9 700.0C886.7 673.9 888.4 646.6 890.2 627.5C891.4 614.7 892.9 604.0 893.9 595.0C894.7 588.5 895.1 583.5 895.9 578.1C896.7 573.0 898.0 567.8 899.0 563.5C899.8 559.9 900.5 556.8 901.5 553.8C902.4 551.1 903.5 548.4 904.6 546.2C905.4 544.5 906.3 542.9 907.2 541.6C907.9 540.5 908.5 539.5 909.3 538.6C910.0 537.7 910.9 537.0 911.8 536.2C912.8 535.4 914.0 534.5 915.1 533.9C916.1 533.3 917.2 532.8 918.3 532.4C919.5 532.0 920.7 531.5 922.2 531.5C924.1 531.5 926.3 531.6 928.8 531.7C932.0 531.8 935.8 532.2 939.7 532.5C944.4 532.9 950.0 533.7 955.1 534.3C960.1 534.9 965.1 535.5 970.0 536.1C974.7 536.7 977.9 537.2 983.8 537.9C995.8 539.4 1019.5 542.4 1040.0 544.0C1064.8 545.9 1098.5 547.3 1122.5 548.6C1141.2 549.6 1153.8 550.5 1172.7 551.4C1197.6 552.6 1235.8 553.8 1260.0 554.7C1277.5 555.4 1286.8 555.9 1305.5 556.4C1337.4 557.2 1394.8 557.9 1438.0 558.4C1479.5 558.9 1523.0 559.2 1560.0 559.5C1590.9 559.8 1610.5 560.1 1645.5 560.3C1704.1 560.7 1785.6 561.0 1886.0 561.2"/>
<path stroke="#000000" d="M345.0 1597.0C347.7 1597.0 350.3 1597.0 353.0 1597.0C355.7 1596.9 358.4 1596.9 361.0 1596.9C363.7 1596.9 366.4 1596.9 369.0 1596.9C371.7 1596.8 374.4 1596.8 377.1 1596.8C379.7 1596.8 382.4 1596.8 385.1 1596.7C387.7 1596.7 390.4 1596.7 393.1 1596.7C395.8 1596.7 398.4 1596.6 401.1 1596.6C403.8 1596.6 406.4 1596.6 409.1 1596.6C411.8 1596.5 414.4 1596.5 417.1 1596.5C419.8 1596.5 422.5 1596.4 425.1 1596.4C427.8 1596.4 430.5 1596.4 433.1 1596.3C435.8 1596.3 438.5 1596.3 441.2 1596.2C443.8 1596.2 446.5 1596.2 449.2 1596.1C451.8 1596.1 454.5 1596.1 457.2 1596.0C459.9 1596.0 462.5 1596.0 465.2 1595.9C467.9 1595.9 470.5 1595.9 473.2 1595.8C475.9 1595.8 478.6 1595.7 481.2 1595.7C483.9 1595.7 486.6 1595.6 489.2 1595.6C491.9 1595.5 494.6 1595.5 497.3 1595.4C499.9 1595.4 502.6 1595.3 505.3 1595.3C507.9 1595.2 510.6 1595.2 513.3 1595.1C515.9 1595.1 518.6 1595.0 521.3 1594.9C524.0 1594.9 526.6 1594.8 529.3 1594.8C532.0 1594.7 534.6 1594.6 537.3 1594.6C540.0 1594.5 542.7 1594.4 545.3 1594.4C548.0 1594.3 550.7 1594.2 553.3 1594.1C556.0 1594.1 558.7 1594.0 561.4 1593.9C564.0 1593.8 566.7 1593.7 569.4 1593.6C572.0 1593.5 574.7 1593.4 577.4 1593.3C580.1 1593.2 582.7 1593.1 585.4 1593.0C588.1 1592.9 590.7 1592.8 593.4 1592.7C596.1 1592.6 598.8 1592.5 601.4 1592.3C604.1 1592.2 606.8 1592.1 609.4 1591.9C612.1 1591.8 614.8 1591.7 617.4 1591.5C620.1 1591.4 622.8 1591.2 625.5 1591.0C628.1 1590.9 630.8 1590.7 633.5 1590.5C636.1 1590.3 638.8 1590.1 641.5 1590.0C644.2 1589.8 646.8 1589.6 649.5 1589.3C652.2 1589.1 654.8 1588.9 657.5 1588.7C660.2 1588.4 662.9 1588.2 665.5 1587.9C668.2 1587.7 670.9 1587.4 673.5 1587.1C676.2 1586.9 678.9 1586.6 681.6 1586.3C684.2 1586.0 686.9 1585.7 689.6 1585.3C692.2 1585.0 694.9 1584.6 697.6 1584.3C700.3 1583.9 702.9 1583.5 705.6 1583.1C708.3 1582.7 710.9 1582.3 713.6 1581.9C716.3 1581.5 719.0 1581.0 721.6 1580.5C724.3 1580.0 727.0 1579.5 729.6 1579.0C732.3 1578.5 734.9 1578.0 737.5 1577.4C740.1 1576.8 742.7 1576.2 745.4 1575.6C748.0 1575.0 750.6 1574.3 753.2 1573.6C755.8 1573.0 758.5 1572.2 761.1 1571.5C763.7 1570.7 766.2 1570.0 768.8 1569.2C771.3 1568.3 773.9 1567.5 776.5 1566.6C779.0 1565.7 781.5 1564.8 784.0 1563.8C786.6 1562.9 789.1 1561.9 791.6 1560.8C794.1 1559.8 796.5 1558.7 799.0 1557.5C801.4 1556.4 803.8 1555.2 806.2 1554.0C808.6 1552.8 811.0 1551.5 813.3 1550.2C815.6 1548.9 818.0 1547.5 820.2 1546.1C822.5 1544.7 824.8 1543.3 827.0 1541.8C829.3 1540.3 831.5 1538.7 833.7 1537.1C835.8 1535.5 838.0 1533.8 840.1 1532.1C842.2 1530.4 844.3 1528.7 846.3 1527.0C848.3 1525.2 850.3 1523.3 852.3 1521.5C854.2 1519.6 856.1 1517.7 858.0 1515.8C859.9 1513.8 861.7 1511.8 863.5 1509.8C865.3 1507.8 867.1 1505.8 868.8 1503.7C870.5 1501.7 872.2 1499.5 873.9 1497.4C875.5 1495.3 877.1 1493.1 878.6 1490.9C880.2 1488.8 881.8 1486.5 883.3 1484.3C884.8 1482.0 886.3 1479.7 887.7 1477.4C889.2 1475.1 890.7 1472.7 892.1 1470.3C893.4 1468.0 894.8 1465.7 896.1 1463.3C897.4 1460.9 898.7 1458.6 899.9 1456.2C901.2 1453.8 902.4 1451.3 903.6 1448.9C904.8 1446.5 906.0 1444.0 907.2 1441.5C908.3 1439.1 909.4 1436.6 910.5 1434.1C911.6 1431.7 912.7 1429.2 913.8 1426.7C914.8 1424.2 915.8 1421.8 916.9 1419.2C917.9 1416.7 918.9 1414.0 919.9 1411.4C920.9 1408.8 921.9 1406.2 922.9 1403.7C923.8 1401.1 924.7 1398.5 925.6 1396.0C926.5 1393.4 927.4 1390.9 928.3 1388.4C929.1 1385.8 930.0 1383.1 930.9 1380.5C931.7 1377.9 932.5 1375.4 933.4 1372.7C934.2 1370.1 935.0 1367.4 935.8 1364.7C936.6 1362.1 937.4 1359.5 938.1 1356.9C938.9 1354.2 939.7 1351.4 940.4 1348.7C941.2 1346.1 941.9 1343.5 942.6 1340.9C943.3 1338.2 944.1 1335.4 944.8 1332.7C945.4 1330.1 946.1 1327.6 946.8 1324.9C947.4 1322.3 948.1 1319.6 948.8 1316.9C949.4 1314.1 950.1 1311.3 950.8 1308.5C951.4 1305.9 952.0 1303.3 952.6 1300.6C953.2 1297.9 953.9 1295.2 954.5 1292.4C955.1 1289.6 955.7 1286.8 956.3 1284.0C956.9 1281.3 957.4 1278.7 958.0 1276.1C958.6 1273.4 959.1 1270.6 959.7 1267.9C960.3 1265.1 960.8 1262.3 961.4 1259.5C962.0 1256.7 962.5 1253.7 963.1 1250.9C963.6 1248.1 964.1 1245.5 964.6 1242.8C965.2 1240.1 965.7 1237.3 966.2 1234.6C966.7 1231.8 967.2 1228.9 967.7 1226.1C968.2 1223.2 968.8 1220.2 969.3 1217.4C969.7 1214.7 970.2 1212.1 970.6 1209.4C971.1 1206.7 971.6 1203.9 972.0 1201.2C972.5 1198.4 973.0 1195.6 973.4 1192.8C973.9 1189.9 974.3 1187.1 974.8 1184.2C975.3 1181.3 975.7 1178.3 976.2 1175.4C976.6 1172.7 977.0 1170.1 977.4 1167.4C977.8 1164.7 978.3 1162.0 978.7 1159.3C979.1 1156.5 979.5 1153.8 979.9 1151.0C980.3 1148.2 980.7 1145.3 981.1 1142.5C981.5 1139.6 981.9 1136.7 982.4 1133.8C982.8 1130.9 983.2 1128.0 983.6 1125.0C984.0 1122.0 984.4 1118.9 984.8 1116.0C985.2 1113.2 985.5 1110.6 985.9 1107.9C986.3 1105.2 986.6 1102.5 987.0 1099.7C987.3 1097.0 987.7 1094.2 988.1 1091.4C988.4 1088.6 988.8 1085.7 989.1 1082.9C989.5 1080.0 989.9 1077.1 990.2 1074.2C990.6 1071.3 990.9 1068.4 991.3 1065.4C991.7 1062.4 992.0 1059.4 992.4 1056.4C992.7 1053.4 993.1 1050.2 993.5 1047.3C993.8 1044.5 994.1 1042.0 994.4 1039.3C994.7 1036.6 995.0 1033.9 995.3 1031.2C995.6 1028.5 995.9 1025.8 996.2 1023.0C996.5 1020.2 996.8 1017.4 997.2 1014.7C997.5 1011.8 997.8 1009.0 998.1 1006.2C998.4 1003.3 998.6 1001.6 999.0 997.6C1000.4 984.0 1005.6 932.7 1008.6 900.0C1011.6 866.9 1014.7 827.8 1017.0 800.0C1018.6 779.9 1019.5 765.9 1021.2 747.5C1023.1 727.0 1026.5 696.8 1028.4 682.5C1029.4 675.1 1030.1 670.9 1031.0 665.0C1031.9 658.9 1032.8 652.3 1033.9 646.3C1034.9 640.7 1036.1 634.8 1037.3 630.0C1038.3 626.0 1039.2 622.5 1040.4 619.2C1041.5 616.2 1043.0 613.1 1044.2 611.0C1045.0 609.5 1045.7 608.5 1046.5 607.3C1047.3 606.1 1048.1 604.9 1049.0 603.8C1049.9 602.6 1051.0 601.3 1052.0 600.3C1052.9 599.4 1053.9 598.6 1054.9 597.9C1056.0 597.2 1057.3 596.4 1058.5 595.9C1059.7 595.4 1061.1 594.9 1062.3 594.6C1063.4 594.3 1064.2 594.0 1065.5 594.0C1067.6 593.9 1071.1 593.9 1074.2 593.9C1077.7 593.9 1081.5 594.0 1085.5 594.2C1090.2 594.4 1095.3 595.7 1100.7 596.5C1106.7 597.4 1112.1 598.1 1120.0 599.2C1133.0 601.0 1153.0 604.8 1172.7 606.9C1198.0 609.6 1235.8 611.7 1260.0 613.6C1277.5 615.0 1288.6 616.1 1305.5 617.2C1327.2 618.6 1356.7 620.0 1380.0 621.2C1400.5 622.3 1415.4 623.2 1438.0 624.1C1470.8 625.4 1523.0 626.4 1560.0 627.5C1590.9 628.4 1610.5 629.5 1645.5 630.1C1704.1 631.2 1785.6 632.2 1886.0 632.6"/>
</g>
<g shape-rendering="crispEdges"><line x1="1341.8" y1="783.7" x2="1442.6" y2="590.0" stroke="#000" stroke-width="8.33"/><polygon fill="#000" points="1455.6,565.1 1425.9,592.2 1443.1,589.1 1450.4,605.0"/><line x1="1557.9" y1="918.1" x2="1679.1" y2="663.2" stroke="#000" stroke-width="8.33"/><polygon fill="#000" points="1691.2,637.8 1662.5,666.0 1679.6,662.3 1687.5,677.9"/></g>
<g><text class="tk" transform="translate(345.0 1699) scale(0.962 1)" font-size="79.5" text-anchor="middle">0</text><text class="tk" transform="translate(653.2 1699) scale(0.962 1)" font-size="79.5" text-anchor="middle">20</text><text class="tk" transform="translate(961.4 1699) scale(0.962 1)" font-size="79.5" text-anchor="middle">40</text><text class="tk" transform="translate(1269.6 1699) scale(0.962 1)" font-size="79.5" text-anchor="middle">60</text><text class="tk" transform="translate(1577.8 1699) scale(0.962 1)" font-size="79.5" text-anchor="middle">80</text><text class="tk" transform="translate(1886.0 1699) scale(0.962 1)" font-size="79.5" text-anchor="middle">100</text></g>
<g><text class="tk" transform="translate(321.5 1627.7) scale(0.962 1)" font-size="79.5" text-anchor="end">0</text><text class="tk" transform="translate(321.5 1370.9) scale(0.962 1)" font-size="79.5" text-anchor="end">0.2</text><text class="tk" transform="translate(321.5 1114.0) scale(0.962 1)" font-size="79.5" text-anchor="end">0.4</text><text class="tk" transform="translate(321.5 857.2) scale(0.962 1)" font-size="79.5" text-anchor="end">0.6</text><text class="tk" transform="translate(321.5 600.4) scale(0.962 1)" font-size="79.5" text-anchor="end">0.8</text><text class="tk" transform="translate(321.5 343.5) scale(0.962 1)" font-size="79.5" text-anchor="end">1</text><text class="tk" transform="translate(321.5 86.7) scale(0.962 1)" font-size="79.5" text-anchor="end">1.2</text></g>
<g><text class="rm" transform="translate(476.5 169)" font-size="81" text-anchor="start">Le</text><text class="rm" transform="translate(580.5 175) scale(1.46 1)" font-size="77" text-anchor="start">=</text><text class="rm" transform="translate(664 169) scale(1.017 1)" font-size="79" text-anchor="start">0.8</text><text class="rm" transform="translate(882.5 315) scale(1.024 1)" font-size="79" text-anchor="start">1.0</text><text class="rm" transform="translate(1066.5 443.5) scale(1.02 1)" font-size="79" text-anchor="start">1.2</text><text class="rm" transform="translate(1304 854.5) scale(0.935 1)" font-size="79" text-anchor="start">1.4</text><text class="rm" transform="translate(1519.5 989.5) scale(0.954 1)" font-size="79" text-anchor="start">1.6</text></g>
<text class="it" transform="translate(1086 1822) scale(1.08 0.97)" font-size="121" text-anchor="start">x</text>
<g transform="translate(106 898) rotate(-90)"><text class="it" transform="translate(0 0) scale(0.963 0.968)" font-size="120" text-anchor="start">θ</text><text class="sb" transform="translate(54.5 28)" font-size="60" text-anchor="start">CL</text></g>
</svg>
</body></html>
